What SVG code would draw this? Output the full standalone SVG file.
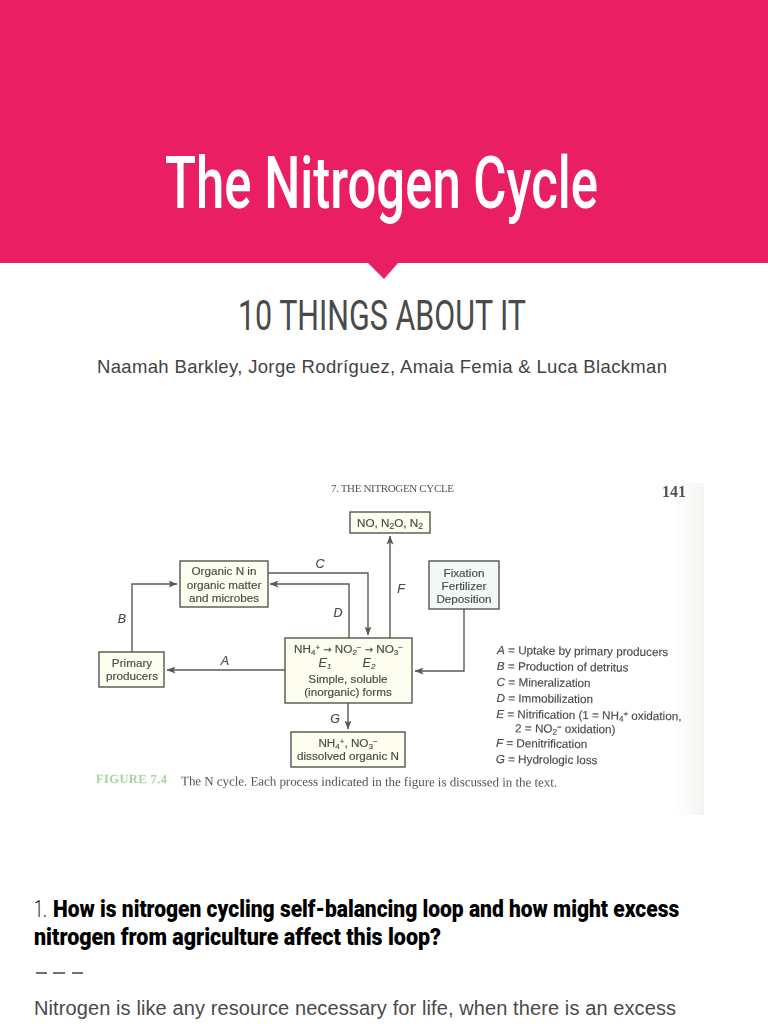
<svg xmlns="http://www.w3.org/2000/svg" width="768" height="1024" viewBox="0 0 768 1024">
<style>
.s{font-family:"Liberation Sans",Arial,sans-serif;fill:#4a4a46;stroke:#4a4a46;stroke-width:.15}
.d{font-size:11.7px;text-anchor:middle}
.i{font-size:12.5px;font-style:italic;text-anchor:middle}
.l{font-size:11.7px}
.t{font-family:"Liberation Serif","Times New Roman",serif;fill:#55554f}
.box{stroke:#55554f;stroke-width:1.4}
.c{fill:none;stroke:#5a5a55;stroke-width:1.4;marker-end:url(#a)}
.h{font-family:"Roboto",sans-serif}
.ar{font-family:"DejaVu Sans",sans-serif}
</style>
<defs>
<marker id="a" viewBox="0 0 9 7" markerWidth="9" markerHeight="7" refX="8.5" refY="3.5" orient="auto" markerUnits="userSpaceOnUse"><path d="M0 0L9 3.5L0 7L2 3.5Z" fill="#5a5a55"/></marker>
<linearGradient id="pg" x1="0" x2="1" y1="0" y2="0"><stop offset="0" stop-color="#f7f7f6" stop-opacity="0"/><stop offset="1" stop-color="#f4f4f2"/></linearGradient>
<filter id="soft" x="0" y="0" width="1" height="1"><feGaussianBlur stdDeviation="0.35"/></filter>
</defs>
<rect width="768" height="1024" fill="#fff"/>
<g id="banner">
<rect width="768" height="263" fill="#e91e63"/>
<path d="M368 263H398L384 279Z" fill="#e91e63"/>
<text class="h" transform="translate(165 208) scale(.65 1)" x="0" y="0" font-size="72" font-weight="500" fill="#fff" textLength="666" lengthAdjust="spacingAndGlyphs">The Nitrogen Cycle</text>
</g>
<text class="h" x="238" y="330" font-size="42" font-weight="400" fill="#4a4a4a" textLength="288" lengthAdjust="spacingAndGlyphs">10 THINGS ABOUT IT</text>
<text x="97" y="373" font-family="'Liberation Sans',Arial,sans-serif" font-size="18.5" fill="#434343" textLength="570" lengthAdjust="spacing">Naamah Barkley, Jorge Rodríguez, Amaia Femia &amp; Luca Blackman</text>
<g id="figure" filter="url(#soft)">
<rect x="670" y="483" width="34" height="332" fill="url(#pg)"/>
<text class="t" x="331" y="492" font-size="11" textLength="123">7. THE NITROGEN CYCLE</text>
<text class="t" x="662" y="497" font-size="16" font-weight="bold" fill="#3c3c38">141</text>
<g id="connectors">
<path class="c" d="M390 638V536"/>
<path class="c" d="M268 573H368V635"/>
<path class="c" d="M349 638V584H270"/>
<path class="c" d="M132 652V584H177"/>
<path class="c" d="M285 670H167"/>
<path class="c" d="M348 703V729"/>
<path class="c" d="M464 609V671H415"/>
</g>
<g id="node-no"><rect class="box" x="350" y="512" width="80" height="21" fill="#fdfdf0"/><text class="s d" x="390" y="527">NO, N<tspan font-size="8.5" dy="2">2</tspan><tspan dy="-2">O, N</tspan><tspan font-size="8.5" dy="2">2</tspan></text></g>
<g id="node-organic"><rect class="box" x="180" y="561" width="88" height="46" fill="#fdfdf0"/><text class="s d" x="224" y="575">Organic N in</text><text class="s d" x="224" y="589">organic matter</text><text class="s d" x="224" y="602">and microbes</text></g>
<g id="node-fixation"><rect class="box" x="429" y="561" width="70" height="48" fill="#f0faf6"/><text class="s d" x="464" y="577">Fixation</text><text class="s d" x="464" y="590">Fertilizer</text><text class="s d" x="464" y="603">Deposition</text></g>
<g id="node-inorganic"><rect class="box" x="285" y="638" width="127" height="65" fill="#fdfdf0"/>
<text class="s d" x="348.5" y="653">NH<tspan font-size="8" dy="2">4</tspan><tspan font-size="8" dy="-5">+</tspan><tspan class="ar" font-size="10" dy="3"> → </tspan><tspan>NO</tspan><tspan font-size="8" dy="2">2</tspan><tspan font-size="8" dy="-5">−</tspan><tspan class="ar" font-size="10" dy="3"> → </tspan><tspan>NO</tspan><tspan font-size="8" dy="2">3</tspan><tspan font-size="8" dy="-5">−</tspan></text>
<text class="s i" x="325" y="667">E<tspan font-size="8" dy="2">1</tspan></text><text class="s i" x="369" y="667">E<tspan font-size="8" dy="2">2</tspan></text>
<text class="s d" x="348" y="683">Simple, soluble</text><text class="s d" x="348" y="696">(inorganic) forms</text></g>
<g id="node-primary"><rect class="box" x="99" y="652" width="65" height="35" fill="#fdfdf0"/><text class="s d" x="132" y="667">Primary</text><text class="s d" x="132" y="680">producers</text></g>
<g id="node-dissolved"><rect class="box" x="291" y="732" width="114" height="35" fill="#fdfdf0"/><text class="s d" x="348" y="747">NH<tspan font-size="8" dy="2">4</tspan><tspan font-size="8" dy="-5">+</tspan><tspan dy="3">, NO</tspan><tspan font-size="8" dy="2">3</tspan><tspan font-size="8" dy="-5">−</tspan></text><text class="s d" x="348" y="760">dissolved organic N</text></g>
<text class="s i" x="320" y="568">C</text>
<text class="s i" x="401" y="593">F</text>
<text class="s i" x="338" y="617">D</text>
<text class="s i" x="122" y="623">B</text>
<text class="s i" x="225" y="665">A</text>
<text class="s i" x="335" y="723">G</text>
<g transform="rotate(0.7 497 655)">
<text class="s l" x="497" y="654"><tspan font-style="italic">A</tspan> = Uptake by primary producers</text>
<text class="s l" x="497" y="670"><tspan font-style="italic">B</tspan> = Production of detritus</text>
<text class="s l" x="497" y="686"><tspan font-style="italic">C</tspan> = Mineralization</text>
<text class="s l" x="497" y="702"><tspan font-style="italic">D</tspan> = Immobilization</text>
<text class="s l" x="497" y="718"><tspan font-style="italic">E</tspan> = Nitrification (1 = NH<tspan font-size="8" dy="2">4</tspan><tspan font-size="8" dy="-5">+</tspan><tspan dy="3"> oxidation,</tspan></text>
<text class="s l" x="516" y="732">2 = NO<tspan font-size="8" dy="2">2</tspan><tspan font-size="8" dy="-5">−</tspan><tspan dy="3"> oxidation)</tspan></text>
<text class="s l" x="497" y="747"><tspan font-style="italic">F</tspan> = Denitrification</text>
<text class="s l" x="497" y="763"><tspan font-style="italic">G</tspan> = Hydrologic loss</text>
</g>
<g transform="rotate(0.2 96 781)">
<text x="96" y="783" font-family="'Liberation Serif',serif" font-size="12.5" font-weight="bold" fill="#a8d2a2" textLength="71">FIGURE 7.4</text>
<text class="t" x="181" y="785" font-size="13" textLength="376">The N cycle. Each process indicated in the figure is discussed in the text.</text>
</g>
</g>
<g id="body">
<text class="h" x="34" y="917" font-size="24.5" font-weight="300" fill="#111" textLength="13" lengthAdjust="spacingAndGlyphs">1.</text>
<text class="h" transform="translate(53 917) scale(.75 1)" x="0" y="0" font-size="24.5" font-weight="900" fill="#000" textLength="835" lengthAdjust="spacingAndGlyphs">How is nitrogen cycling self-balancing loop and how might excess</text>
<text class="h" x="34" y="945" font-size="24.5" font-weight="900" fill="#000" textLength="407" lengthAdjust="spacingAndGlyphs">nitrogen from agriculture affect this loop?</text>
<path d="M36 973H47M53 973H65M72 973H83" stroke="#444" stroke-width="1.5" fill="none"/>
<text x="34" y="1015" font-family="'Liberation Sans',Arial,sans-serif" font-size="20" fill="#4a4a4a" textLength="642">Nitrogen is like any resource necessary for life, when there is an excess</text>
</g>
</svg>
